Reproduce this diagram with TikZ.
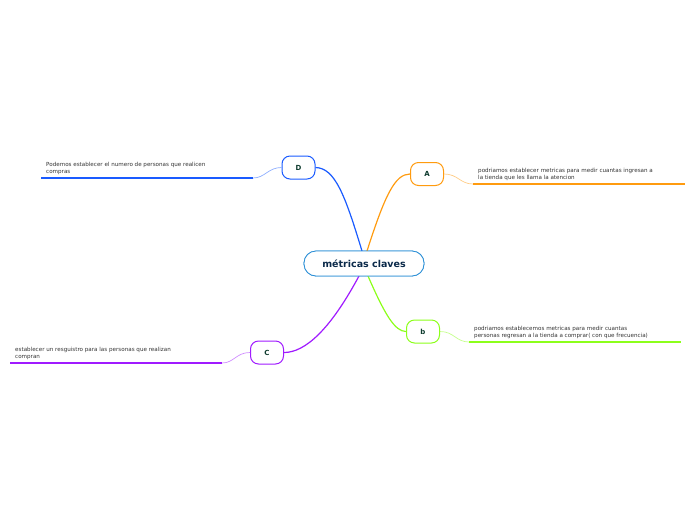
\documentclass[tikz,border=0pt]{standalone}
\usepackage{fontspec}
\setmainfont{DejaVu Sans}
\definecolor{cblue}{HTML}{1A5BFF}
\definecolor{corange}{HTML}{FF9B0F}
\definecolor{cgreen}{HTML}{8CFF1A}
\definecolor{cpurple}{HTML}{A01AFF}
\definecolor{ccenter}{HTML}{2B8FD6}
\definecolor{ctext}{HTML}{0B2A4A}
\definecolor{cltext}{HTML}{0E3B2E}
\begin{document}
\begin{tikzpicture}[x=1pt,y=-1pt,
 topic/.style={draw=#1,line width=1pt,rounded corners=8pt,minimum width=33pt,minimum height=23pt,font=\bfseries\fontsize{7}{8}\selectfont,text=cltext,fill=white,inner sep=0pt},
 leaf/.style={font=\fontsize{5.6}{7}\selectfont,text=black!80,align=left,anchor=south west,inner sep=0pt},
 branch/.style={draw=#1,line width=1.2pt},
 twig/.style={draw=#1!50,line width=0.7pt},
 bar/.style={draw=#1,line width=1.5pt}]
\useasboundingbox (0,0) rectangle (696,520);
\node[draw=ccenter,line width=0.8pt,rounded corners=12pt,minimum width=120pt,minimum height=25pt,font=\bfseries\fontsize{9.5}{11}\selectfont,text=ctext,fill=white] (c) at (364,263.5) {métricas claves};
\node[topic=cblue] (D) at (298.5,167.5) {D};
\node[topic=corange] (A) at (427,174) {A};
\node[topic=cgreen] (B) at (423,331.5) {b};
\node[topic=cpurple] (C) at (267,352.5) {C};
\coordinate (Dl) at (253,178); \coordinate (Dr) at (41,178);
\coordinate (Al) at (473,184); \coordinate (Ar) at (685,184);
\coordinate (Bl) at (469,342); \coordinate (Br) at (681,342);
\coordinate (Cl) at (222,363); \coordinate (Cr) at (10,363);
\begin{scope}[on background layer/.style={}]
\draw[branch=cblue] (362,251) .. controls (345,195) and (335,168) .. (D.east);
\draw[branch=corange] (367,251) .. controls (385,195) and (395,174) .. (A.west);
\draw[branch=cgreen] (368,276) .. controls (385,315) and (395,331.5) .. (B.west);
\draw[branch=cpurple] (359,276) .. controls (330,330) and (305,352.5) .. (C.east);
\end{scope}
\node[draw=ccenter,line width=0.8pt,rounded corners=12pt,minimum width=120pt,minimum height=25pt,font=\bfseries\fontsize{9.5}{11}\selectfont,text=ctext,fill=white] at (364,263.5) {métricas claves};
\draw[twig=cblue] (D.west) .. controls (268,167.5) and (265,178) .. (Dl);
\draw[bar=cblue] (Dl) -- (Dr);
\draw[twig=corange] (A.east) .. controls (458,174) and (460,184) .. (Al);
\draw[bar=corange] (Al) -- (Ar);
\draw[twig=cgreen] (B.east) .. controls (454,331.5) and (456,342) .. (Bl);
\draw[bar=cgreen] (Bl) -- (Br);
\draw[twig=cpurple] (C.west) .. controls (236,352.5) and (234,363) .. (Cl);
\draw[bar=cpurple] (Cl) -- (Cr);
\node[leaf] (tD) at (46,174.5) {Podemos establecer el numero de personas que realicen\\compras};
\node[leaf] (tA) at (478,180.5) {podriamos establecer metricas para medir cuantas ingresan a\\la tienda que les llama la atencion};
\node[leaf] (tB) at (474,338.5) {podriamos establecemos metricas para medir cuantas\\personas regresan a la tienda a comprar( con que frecuencia)};
\node[leaf] (tC) at (15,359.5) {establecer un resguistro para las personas que realizan\\compran};
\end{tikzpicture}
\end{document}
